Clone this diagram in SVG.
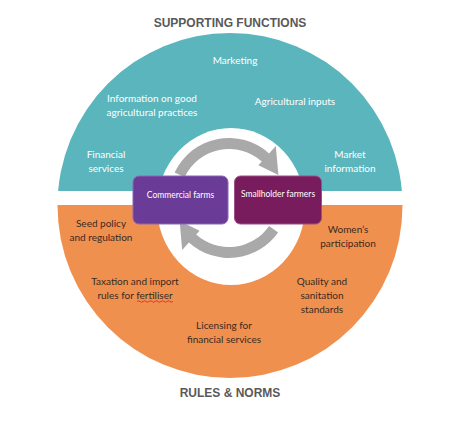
<svg xmlns="http://www.w3.org/2000/svg" width="474" height="427" viewBox="0 0 474 427">
<defs>
<style>
.head{font-family:"Liberation Sans",Arial,sans-serif;font-weight:bold;font-size:12px;fill:#595959;text-anchor:middle}
.lt{font-family:Lato,"Open Sans",sans-serif;font-size:10px;fill:#ffffff;text-anchor:middle}
.lo{font-family:Lato,"Open Sans",sans-serif;font-size:10px;fill:#3a2a22;text-anchor:middle}
.bt{font-family:Lato,"Open Sans",sans-serif;font-size:8.5px;fill:#ffffff;text-anchor:middle}
.arrow{fill:#a9a9a9}
</style>
<clipPath id="top"><rect x="0" y="0" width="474" height="191"/></clipPath>
<clipPath id="bot"><rect x="0" y="205" width="474" height="222"/></clipPath>
</defs>
<rect width="474" height="427" fill="#ffffff"/>
<g id="ring">
<circle cx="230" cy="205.5" r="172.5" fill="#5bb5bd" clip-path="url(#top)"/>
<circle cx="230" cy="205.5" r="172.5" fill="#f0904e" clip-path="url(#bot)"/>
<ellipse cx="231" cy="206.5" rx="74" ry="78.5" fill="#ffffff"/>
</g>
<g id="connectors">
<path class="arrow" d="M174.6,172.6 A60,60 0 0 1 269.1,153.4 L275.8,146 L278.4,175 L258.4,165.3 L261.8,161.6 A49,49 0 0 0 184.6,177.3 Z"/>
<path class="arrow" d="M278.1,232.4 A60,60 0 0 1 188.9,242.6 L182.2,250 L179.6,221 L199.6,230.7 L196.2,234.4 A49,49 0 0 0 269.1,226.1 Z"/>
</g>
<g id="node-commercial">
<rect x="133" y="176" width="95" height="48" rx="6" fill="#6a3b97" stroke="#8a68b5" stroke-width="1"/>
<text class="bt" x="180.5" y="198">Commercial farms</text>
</g>
<g id="node-smallholder">
<rect x="234.5" y="176" width="87" height="48" rx="6" fill="#791c5d" stroke="#9a4f84" stroke-width="1"/>
<text class="bt" x="278" y="197">Smallholder farmers</text>
</g>
<g id="supporting">
<text class="head" x="230" y="27">SUPPORTING FUNCTIONS</text>
<text class="lt" x="235" y="64">Marketing</text>
<text class="lt" x="152" y="102">Information on good</text>
<text class="lt" x="152" y="116">agricultural practices</text>
<text class="lt" x="295" y="105">Agricultural inputs</text>
<text class="lt" x="106" y="158">Financial</text>
<text class="lt" x="106" y="172">services</text>
<text class="lt" x="350" y="158">Market</text>
<text class="lt" x="350" y="172">information</text>
</g>
<g id="rules">
<text class="lo" x="101" y="227">Seed policy</text>
<text class="lo" x="101" y="241">and regulation</text>
<text class="lo" x="348" y="233">Women’s</text>
<text class="lo" x="348" y="247">participation</text>
<text class="lo" x="135" y="285">Taxation and import</text>
<text class="lo" x="135" y="299">rules for fertiliser</text>
<path d="M137,301.5 q1.5,-1.5 3,0 t3,0 t3,0 t3,0 t3,0 t3,0 t3,0 t3,0 t3,0 t3,0 t3,0 t3,0" fill="none" stroke="#e0201a" stroke-width="0.8"/>
<text class="lo" x="322" y="285">Quality and</text>
<text class="lo" x="322" y="299">sanitation</text>
<text class="lo" x="322" y="313">standards</text>
<text class="lo" x="224" y="329">Licensing for</text>
<text class="lo" x="224" y="343">financial services</text>
<text class="head" x="230" y="397">RULES &amp; NORMS</text>
</g>
</svg>
